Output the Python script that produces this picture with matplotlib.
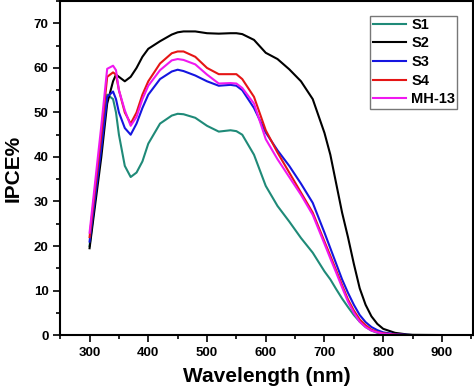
import matplotlib
matplotlib.use('Agg')
import matplotlib.pyplot as plt
from matplotlib.ticker import MultipleLocator

plt.rcParams['font.family'] = ['Liberation Sans', 'DejaVu Sans']

# wavelength grid (nm)
wl = [300, 320, 330, 340, 345, 350, 360, 370, 380, 390, 400, 420, 440, 450, 460,
      480, 500, 520, 540, 550, 560, 580, 600, 620, 640, 660, 680, 700, 710, 720,
      730, 740, 750, 760, 770, 780, 790, 800, 820, 840, 850, 900]

s1 = [20, 42, 54, 53, 50, 45, 38, 35.5, 36.5, 39, 43, 47.5, 49.3, 49.7, 49.6,
      48.8, 47, 45.7, 46, 45.8, 45, 40.5, 33.5, 29, 25.5, 21.8, 18.5, 14.3, 12.5,
      10.3, 8.2, 6.3, 4.5, 3.0, 1.8, 1.0, 0.5, 0.25, 0.05, 0, 0, 0]
s2 = [19.5, 40, 52, 57, 58.5, 58, 57, 58, 60, 62.5, 64.3, 66, 67.5, 68, 68.2,
      68.2, 67.8, 67.7, 67.8, 67.8, 67.6, 66.3, 63.4, 62, 59.7, 57, 53, 45.4, 40.5,
      34, 27.5, 22, 16, 10.5, 6.8, 4.2, 2.5, 1.4, 0.5, 0.15, 0.05, 0]
s3 = [21, 42, 53.5, 54.7, 53, 50, 46.5, 45, 47.5, 51, 54, 57.5, 59.2, 59.6, 59.3,
      58.3, 57, 56, 56.2, 56, 55, 51, 45.5, 41.5, 38, 34, 29.7, 23, 19.5,
      16, 12.5, 9.5, 6.8, 4.5, 2.9, 1.8, 1.1, 0.6, 0.2, 0.05, 0, 0]
s4 = [22, 45, 58, 59, 58.5, 55, 50, 47.5, 50, 54, 57, 61, 63.3, 63.7, 63.7,
      62.5, 60, 58.6, 58.6, 58.6, 57.5, 53.5, 46, 41, 36.5, 32, 27.5, 21, 17.8,
      14.5, 11.2, 8, 5.5, 3.5, 2.2, 1.2, 0.7, 0.4, 0.1, 0, 0, 0]
mh13 = [23, 47, 59.8, 60.5, 59.5, 55, 50.5, 47, 49, 53, 56, 59.5, 61.7, 62, 61.8,
        60.8, 58.5, 56.5, 56.6, 56.5, 55.5, 52, 44, 39.5, 35.5, 31.5, 27, 20.5, 17.2,
        14, 10.7, 7.5, 5, 3, 1.8, 1.0, 0.6, 0.3, 0.05, 0, 0, 0]

labels = ['S1', 'S2', 'S3', 'S4', 'MH-13']
colors = ['#1f8a78', 'black', '#1515e0', '#e51515', '#f018f0']

fig = plt.figure(figsize=(4.74, 3.86), dpi=100)
ax = fig.add_axes([0.127, 0.132, 0.871, 0.865])

for y, lab, c in zip([s1, s2, s3, s4, mh13], labels, colors):
    ax.plot(wl, y, color=c, lw=1.5, label=lab)

ax.set_xlim(250, 953)
ax.set_ylim(0, 75)
ax.xaxis.set_major_locator(MultipleLocator(100))
ax.xaxis.set_minor_locator(MultipleLocator(50))
ax.yaxis.set_major_locator(MultipleLocator(10))
ax.yaxis.set_minor_locator(MultipleLocator(5))
ax.tick_params(which='both', direction='out', width=1.2)
ax.tick_params(which='major', length=5, labelsize=9.5)
ax.tick_params(which='minor', length=3)
for t in ax.get_xticklabels() + ax.get_yticklabels():
    t.set_fontweight('bold')
for sp in ax.spines.values():
    sp.set_linewidth(1.5)

ax.set_xlabel('Wavelength (nm)', fontsize=15, fontweight='bold', labelpad=6)
ax.set_ylabel('IPCE%', fontsize=15, fontweight='bold', labelpad=8)

leg = ax.legend(loc='upper right', bbox_to_anchor=(0.962, 0.957),
                prop={'weight': 'bold', 'size': 10.5}, frameon=True, fancybox=False,
                handlelength=2.3, handletextpad=0.35, labelspacing=0.32,
                borderpad=0.15, borderaxespad=0)
leg.get_frame().set_edgecolor('#555555')
leg.get_frame().set_linewidth(1.0)

fig.savefig('out.png', dpi=100)
